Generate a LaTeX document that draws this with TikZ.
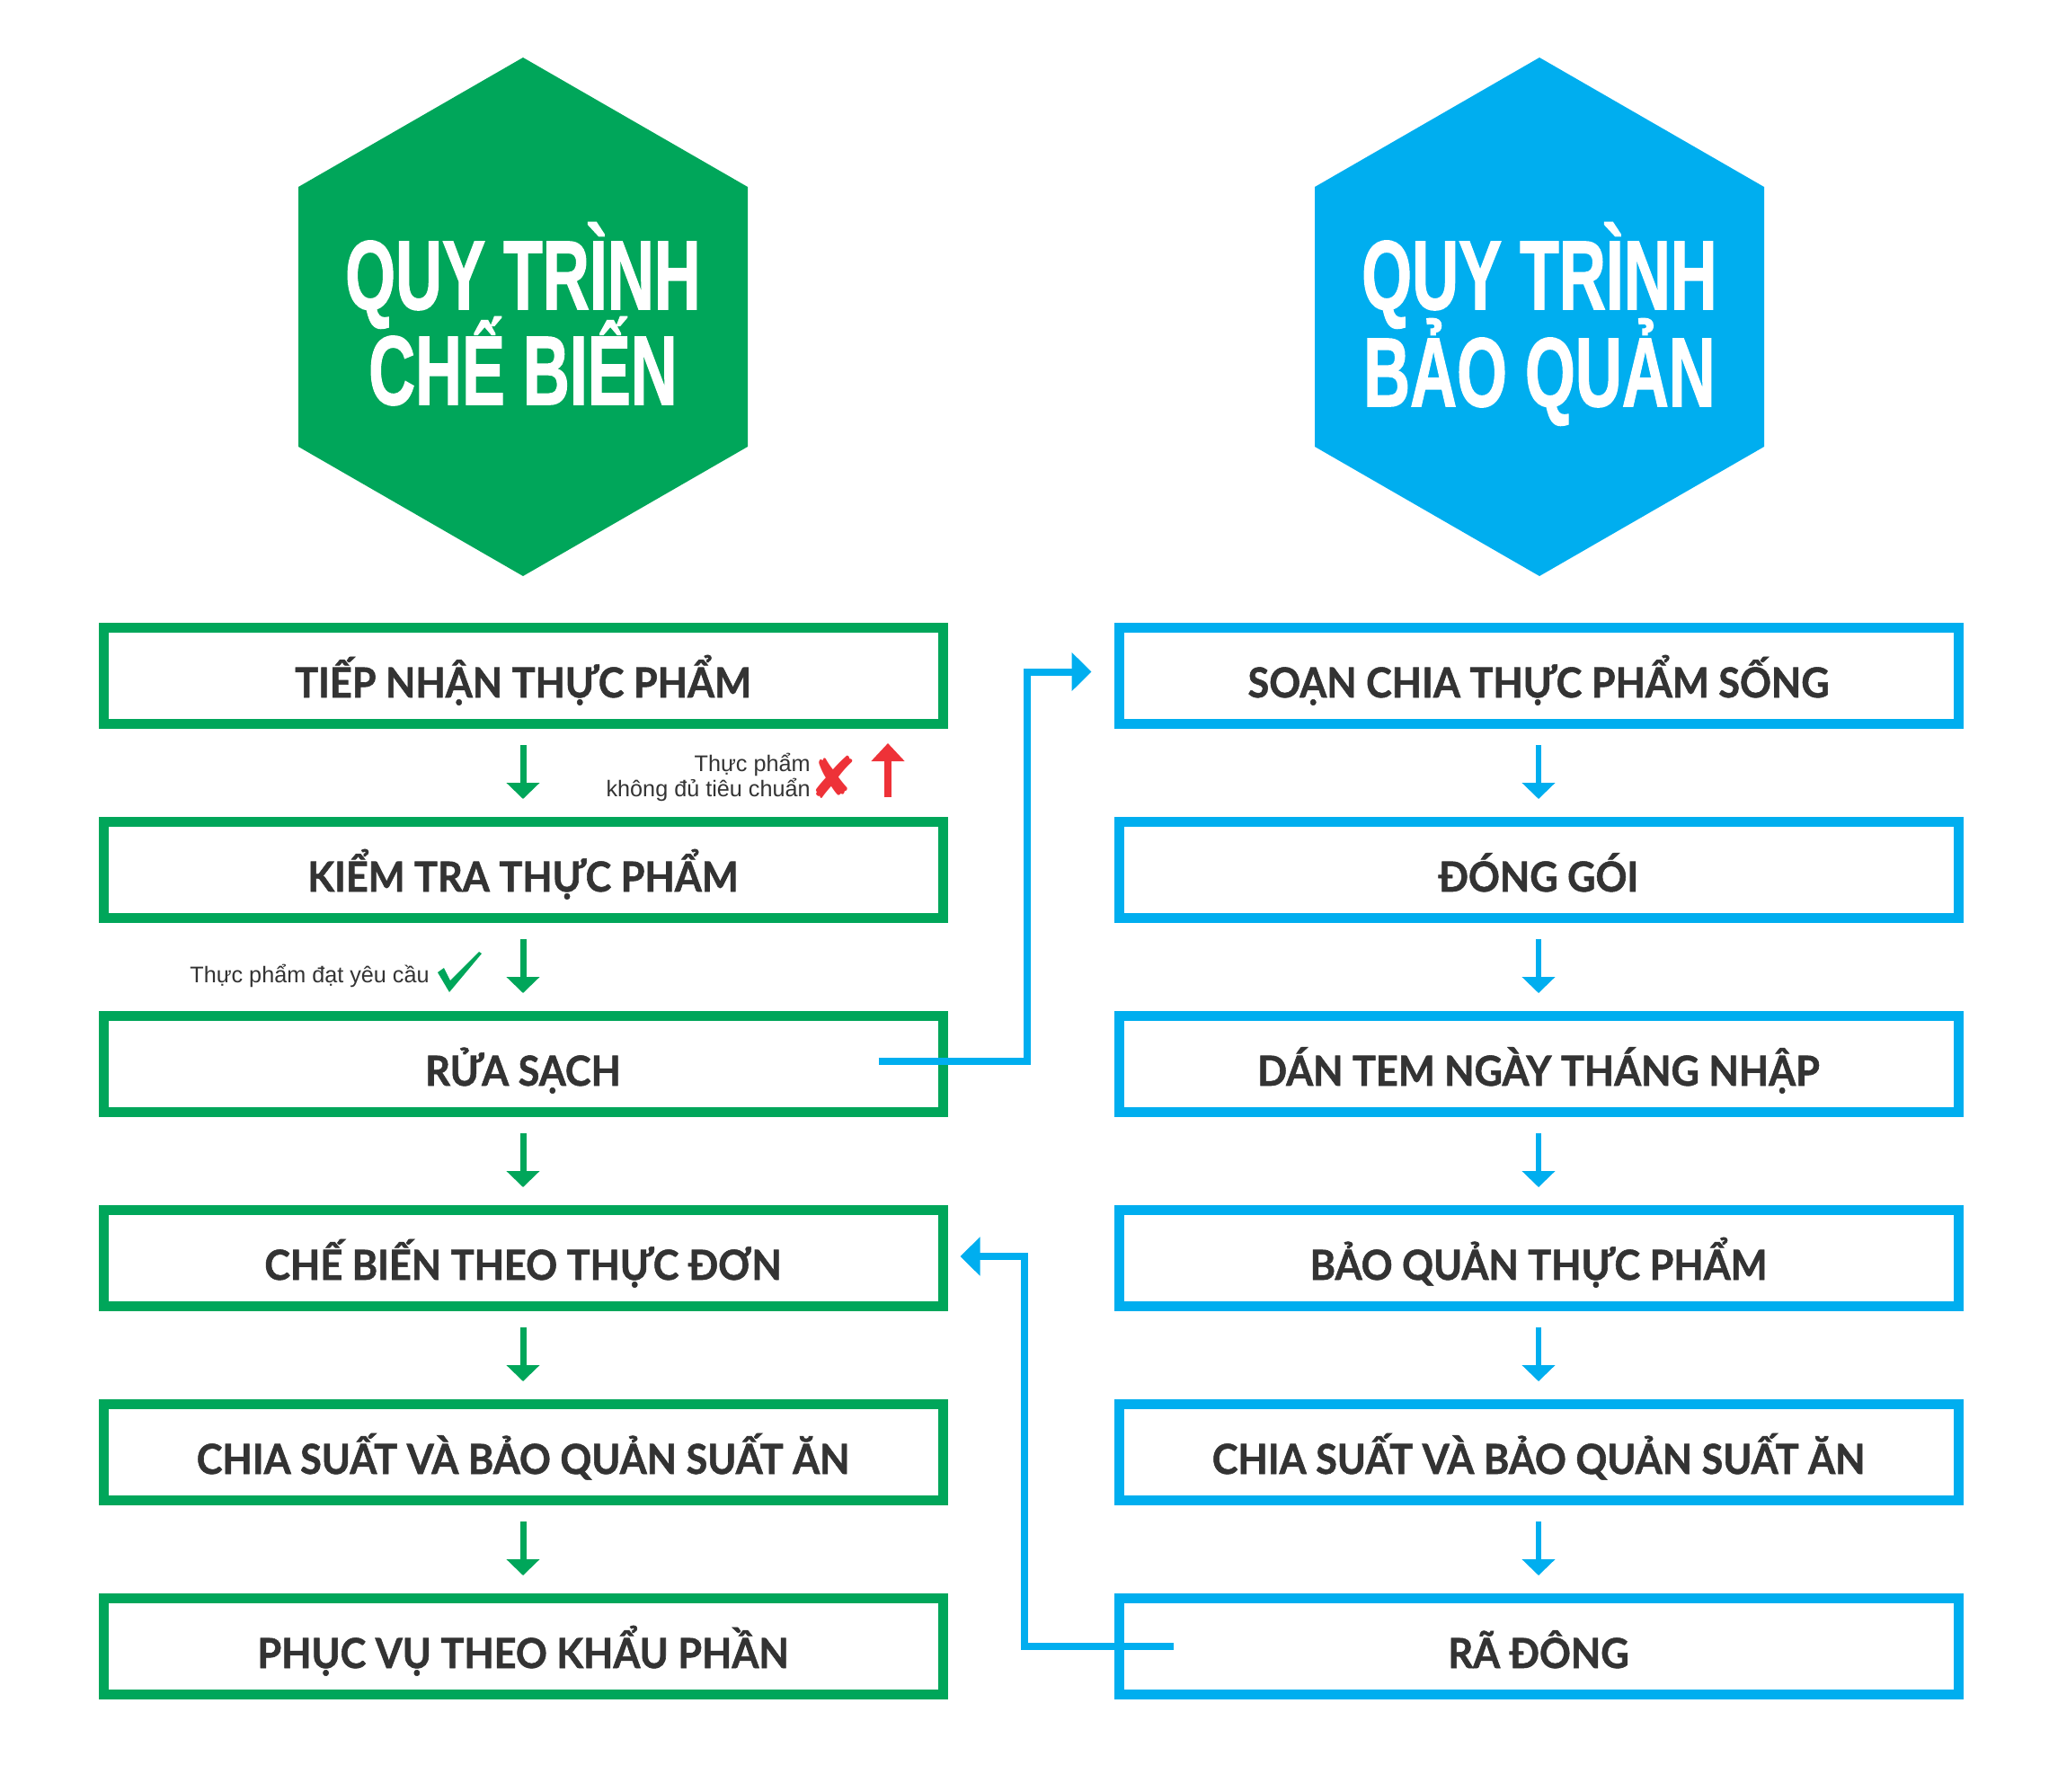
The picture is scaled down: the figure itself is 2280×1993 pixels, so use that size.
\documentclass[tikz,border=0pt]{standalone}
\usepackage{fontspec}
\setmainfont{Liberation Sans}
\newfontfamily\boxfont[BoldFeatures={FakeBold=1.2,FakeStretch=0.94}]{Lato}
\newfontfamily\hexfont[BoldFeatures={FakeBold=1.5}]{Liberation Sans}
\newfontfamily\symfont{DejaVu Sans}
\usetikzlibrary{arrows.meta,calc}
\definecolor{cbgreen}{RGB}{0,166,90}
\definecolor{cbblue}{RGB}{0,174,239}
\definecolor{cbred}{RGB}{238,50,56}
\definecolor{cbtext}{RGB}{51,51,51}
\tikzset{
  boxbase/.style={line width=5.5pt, minimum width=467pt, minimum height=53.5pt,
    inner sep=0pt, text height=24pt, text depth=0pt, text=cbtext,
    font={\boxfont\bfseries\fontsize{23pt}{23pt}\selectfont}},
  greenbox/.style={boxbase, draw=cbgreen},
  bluebox/.style={boxbase, draw=cbblue},
  garrow/.style={draw=cbgreen, line width=3.5pt, -{Triangle[width=18pt,length=9pt]},
    shorten <=9pt, shorten >=10pt},
  barrow/.style={draw=cbblue, line width=3pt, -{Triangle[width=18pt,length=9pt]},
    shorten <=9pt, shorten >=10pt},
  bluecon/.style={draw=cbblue, line width=4pt, -{Triangle[width=21pt,length=11pt]}},
  hextitle/.style={anchor=base, text=white, inner sep=0pt,
    font={\hexfont\bfseries\fontsize{54.5pt}{54.5pt}\selectfont}},
  smalltxt/.style={text=cbtext, inner sep=0pt, font={\fontsize{12.6pt}{12pt}\selectfont}}
}
\newcommand{\hexsq}[1]{\scalebox{0.66}[1]{#1}}
\begin{document}
\begin{tikzpicture}[x=0.5pt,y=-0.5pt]
\useasboundingbox (0,0) rectangle (2280,1993);
% hexagons
\fill[cbgreen] (582,64) -- (832,208) -- (832,497) -- (582,641) -- (332,497) -- (332,208) -- cycle;
\fill[cbblue] (1713,64) -- (1963,208) -- (1963,497) -- (1713,641) -- (1463,497) -- (1463,208) -- cycle;
\node[hextitle] (h1a) at (582,344) {\hexsq{QUY TRÌNH}};
\node[hextitle] (h1b) at (582,450) {\hexsq{CHẾ BIẾN}};
\node[hextitle] (h2a) at (1713,344) {\hexsq{QUY TRÌNH}};
\node[hextitle] (h2b) at (1713,452) {\hexsq{BẢO QUẢN}};
% left boxes
\node[greenbox] (b1) at (582,752) {TIẾP NHẬN THỰC PHẨM};
\node[greenbox] (b2) at (582,968) {KIỂM TRA THỰC PHẨM};
\node[greenbox] (b3) at (582,1184) {RỬA SẠCH};
\node[greenbox] (b4) at (582,1400) {CHẾ BIẾN THEO THỰC ĐƠN};
\node[greenbox] (b5) at (582,1616) {CHIA SUẤT VÀ BẢO QUẢN SUẤT ĂN};
\node[greenbox] (b6) at (582,1832) {PHỤC VỤ THEO KHẨU PHẦN};
% right boxes
\node[bluebox] (r1) at (1712,752) {SOẠN CHIA THỰC PHẨM SỐNG};
\node[bluebox] (r2) at (1712,968) {ĐÓNG GÓI};
\node[bluebox] (r3) at (1712,1184) {DÁN TEM NGÀY THÁNG NHẬP};
\node[bluebox] (r4) at (1712,1400) {BẢO QUẢN THỰC PHẨM};
\node[bluebox] (r5) at (1712,1616) {CHIA SUẤT VÀ BẢO QUẢN SUẤT ĂN};
\node[bluebox] (r6) at (1712,1832) {RÃ ĐÔNG};
% arrows
\foreach \a/\b in {b1/b2,b2/b3,b3/b4,b4/b5,b5/b6} \draw[garrow] (\a.south) -- (\b.north);
\foreach \a/\b in {r1/r2,r2/r3,r3/r4,r4/r5,r5/r6} \draw[barrow] (\a.south) -- (\b.north);
% red arrow
\coordinate (rx) at (988,0);
\draw[draw=cbred, line width=4pt, -{Triangle[width=18pt,length=10pt]}, shorten <=11pt, shorten >=8pt]
  (b2.north -| rx) -- (b1.south -| rx);
\node[smalltxt, align=right, anchor=base east] (rej) at (902,886) {Thực phẩm\\không đủ tiêu chuẩn};
\node[text=cbred, inner sep=0pt, font={\symfont\fontsize{32pt}{32pt}\selectfont}] (xm) at (927,865) {✘};
\node[smalltxt, anchor=base west] (ok) at (211,1093) {Thực phẩm đạt yêu cầu};
\fill[cbgreen] (487,1082) -- (494,1077) -- (501,1091) -- (533,1059) -- (536,1061) -- (500,1104) -- cycle;
% blue connectors
\draw[bluecon] ([xshift=-38.5pt,yshift=1.5pt]b3.east) -- ++(165.5,0) |- ([xshift=-12.5pt,yshift=2.25pt]r1.west);
\draw[bluecon] ([xshift=33pt]r6.west) -- ++(-166,0) |- ([xshift=7pt,yshift=1pt]b4.east);
\end{tikzpicture}
\end{document}
